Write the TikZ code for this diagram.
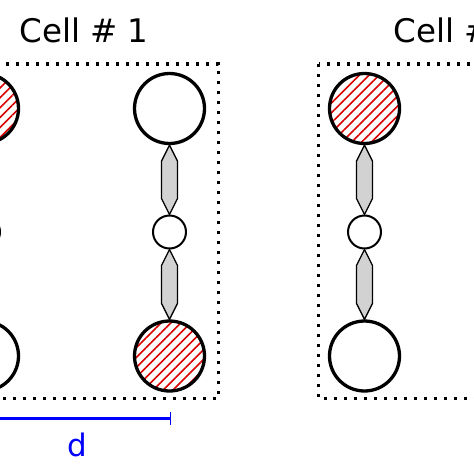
\documentclass[tikz,border=0pt]{standalone}
\usepackage{fontspec}
\setmainfont{DejaVu Sans}
\usetikzlibrary{patterns.meta,arrows.meta}

\tikzset{
  bigatom/.style={draw, circle, line width=3.3pt, minimum size=70pt, inner sep=0pt, fill=white},
  hatchatom/.style={bigatom, pattern={Lines[angle=45,distance=7pt,line width=1.6pt]}, pattern color=red!85!black},
  smallatom/.style={draw, circle, line width=2pt, minimum size=33pt, inner sep=0pt},
  rodlink/.style={draw, fill=gray!35, line width=1.3pt},
  cellbox/.style={line width=3.3pt, dash pattern=on 3.3pt off 6.7pt},
  dimline/.style={blue, line width=2.8pt, {Bar[width=13pt,line width=1.5pt]}-{Bar[width=13pt,line width=1.5pt]}},
}
% rod between two atoms stacked vertically
\newcommand{\rod}[2]{\draw[rodlink] (#1.south) -- ([xshift=8pt,yshift=-16pt]#1.south) -- ([xshift=8pt,yshift=16pt]#2.north) -- (#2.north) -- ([xshift=-8pt,yshift=16pt]#2.north) -- ([xshift=-8pt,yshift=-16pt]#1.south) -- cycle;}

\begin{document}
\begin{tikzpicture}[x=1pt, y=-1pt]
\path[use as bounding box, clip] (0,0) rectangle (474,474);

\foreach \c/\l/\r/\t in {1/-16.5/169.5/84, 2/364.5/550.5/458} {
  \draw[cellbox] (\l-46,64) rectangle (\r+49,398.7);
  \node[anchor=base, inner sep=0pt, font=\fontsize{32.5}{36}\selectfont] (title\c) at (\t,42) {Cell \# \c};
  % left column
  \node[hatchatom] (lt\c) at (\l,108.5) {};
  \node[smallatom] (lm\c) at (\l,232) {};
  \node[bigatom] (lb\c) at (\l,356) {};
  % right column
  \node[bigatom] (rt\c) at (\r,108.5) {};
  \node[smallatom] (rm\c) at (\r,232) {};
  \node[hatchatom] (rb\c) at (\r,356) {};
  \rod{lt\c}{lm\c}
  \rod{lm\c}{lb\c}
  \rod{rt\c}{rm\c}
  \rod{rm\c}{rb\c}
}

\coordinate (dl) at (-16.5,418.5);
\coordinate (dr) at (171,418.5);
\draw[dimline] (dl) -- node[below=10pt, text=blue, font=\fontsize{31}{34}\selectfont] (dlabel) {d} (dr);
\end{tikzpicture}
\end{document}
